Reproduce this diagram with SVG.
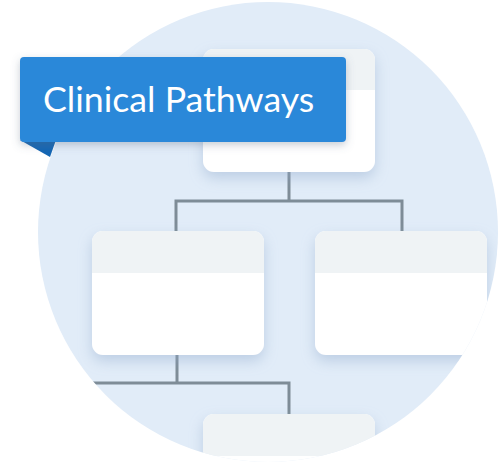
<svg xmlns="http://www.w3.org/2000/svg" width="500" height="463" viewBox="0 0 500 463">
<defs>
<style>
.card{fill:#ffffff}
.head{fill:#eff3f5}
.conn{fill:none;stroke:#7e8c97;stroke-width:3}
.title{font-family:Lato,"Open Sans",sans-serif;font-size:35.7px;fill:#ffffff}
</style>
<clipPath id="circ"><circle cx="268" cy="232" r="230"/></clipPath>
<filter id="sh" x="-30%" y="-30%" width="160%" height="170%">
<feDropShadow dx="0" dy="6" stdDeviation="7" flood-color="#8fa9cc" flood-opacity="0.45"/>
</filter>
<filter id="bsh" x="-10%" y="-20%" width="120%" height="150%">
<feDropShadow dx="0" dy="3" stdDeviation="4" flood-color="#5d6f85" flood-opacity="0.35"/>
</filter>
</defs>
<rect width="500" height="463" fill="#ffffff"/>
<circle cx="268" cy="232" r="230" fill="#e1ecf8"/>
<g clip-path="url(#circ)">
<g id="connectors">
<path class="conn" d="M289 172V201M176 232V201H402V232"/>
<path class="conn" d="M177 355V383M60 383H289V414"/>
</g>
<g id="node-top" filter="url(#sh)">
<rect class="card" x="203" y="49" width="172" height="123" rx="11"/>
<path class="head" d="M203 90V60a11 11 0 0 1 11-11h150a11 11 0 0 1 11 11V90Z"/>
</g>
<g id="node-left" filter="url(#sh)">
<rect class="card" x="92" y="231" width="172" height="124" rx="11"/>
<path class="head" d="M92 273V242a11 11 0 0 1 11-11h150a11 11 0 0 1 11 11V273Z"/>
</g>
<g id="node-right" filter="url(#sh)">
<rect class="card" x="315" y="231" width="172" height="124" rx="11"/>
<path class="head" d="M315 273V242a11 11 0 0 1 11-11h150a11 11 0 0 1 11 11V273Z"/>
</g>
<g id="node-bottom" filter="url(#sh)">
<rect class="card" x="203" y="414" width="172" height="124" rx="11"/>
<path class="head" d="M203 456V425a11 11 0 0 1 11-11h150a11 11 0 0 1 11 11V456Z"/>
</g>
</g>
<g id="banner">
<polygon points="20,140 56,140 50,157" fill="#1466b3"/>
<rect x="20" y="57" width="326" height="85" rx="4" fill="#2b88d9" filter="url(#bsh)"/>
<text class="title" x="43" y="112">Clinical Pathways</text>
</g>
</svg>
